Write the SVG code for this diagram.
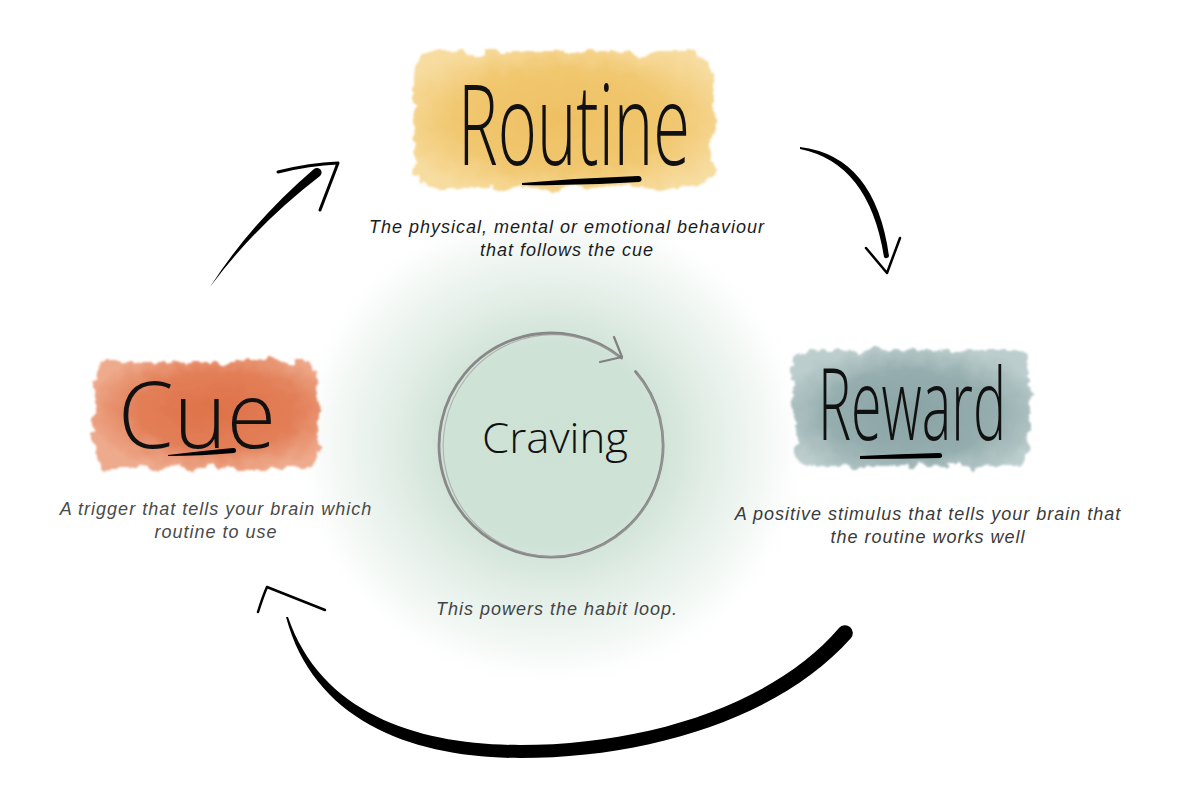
<svg xmlns="http://www.w3.org/2000/svg" width="1200" height="800" viewBox="0 0 1200 800">
  <defs>
    <style>
      .hand { font-family: "Open Sans", "DejaVu Sans", sans-serif; font-weight: 300; fill: #111; }
      .desc { font-family: "Liberation Sans", Arial, sans-serif; font-style: italic; font-size: 18px; letter-spacing: 1px; text-anchor: middle; }
      .ink { fill: #000; stroke: none; }
      .inkline { fill: none; stroke: #000; stroke-linecap: round; stroke-linejoin: round; }
    </style>
    <filter id="wc" x="-10%" y="-20%" width="120%" height="140%">
      <feTurbulence type="fractalNoise" baseFrequency="0.06" numOctaves="4" seed="7" result="n"/>
      <feDisplacementMap in="SourceGraphic" in2="n" scale="16" xChannelSelector="R" yChannelSelector="G" result="d"/>
      <feGaussianBlur in="d" stdDeviation="1.2"/>
    </filter>
    <filter id="soft" x="-20%" y="-20%" width="140%" height="140%">
      <feGaussianBlur stdDeviation="0.5"/>
    </filter>
    <radialGradient id="gRoutine" cx="50%" cy="50%" r="60%">
      <stop offset="0" stop-color="#efc063"/>
      <stop offset="0.6" stop-color="#f1c76f"/>
      <stop offset="1" stop-color="#f7dc9f"/>
    </radialGradient>
    <radialGradient id="gCue" cx="55%" cy="45%" r="60%">
      <stop offset="0" stop-color="#df7148"/>
      <stop offset="0.6" stop-color="#e27f58"/>
      <stop offset="1" stop-color="#eeaa8c"/>
    </radialGradient>
    <radialGradient id="gReward" cx="50%" cy="55%" r="60%">
      <stop offset="0" stop-color="#8aa3a4"/>
      <stop offset="0.6" stop-color="#95adae"/>
      <stop offset="1" stop-color="#bccdcd"/>
    </radialGradient>
    <radialGradient id="gGlow" cx="50%" cy="50%" r="50%">
      <stop offset="0" stop-color="#cde1d5"/>
      <stop offset="0.4" stop-color="#cfe2d6"/>
      <stop offset="0.62" stop-color="#e4efe8"/>
      <stop offset="0.85" stop-color="#f7faf8"/>
      <stop offset="1" stop-color="#ffffff" stop-opacity="0"/>
    </radialGradient>
  </defs>

  <rect width="1200" height="800" fill="#ffffff"/>

  <!-- Craving centre -->
  <g id="node-craving">
    <ellipse cx="551" cy="445" rx="265" ry="250" fill="url(#gGlow)"/>
    <path d="M635.5,371.5 A112,112 0 1 1 621.5,358" fill="none" stroke="#888" stroke-width="2.8" stroke-linecap="round" filter="url(#soft)"/>
    <path d="M638,375 A110,111 0 1 1 618,356" fill="none" stroke="#9c9c9c" stroke-width="1.1" stroke-linecap="round" opacity="0.7"/>
    <path d="M614,337 L622,357 L600,362" fill="none" stroke="#808080" stroke-width="2.2" stroke-linecap="round" stroke-linejoin="round"/>
    <text class="hand" x="482" y="453" font-size="42" textLength="146" lengthAdjust="spacingAndGlyphs">Craving</text>
    <text class="desc" x="557" y="615" fill="#444">This powers the habit loop.</text>
  </g>

  <!-- Routine -->
  <g id="node-routine">
    <rect x="414" y="52" width="300" height="136" rx="22" fill="url(#gRoutine)" filter="url(#wc)"/>
    <text class="hand" x="458" y="165" font-size="112" textLength="232" lengthAdjust="spacingAndGlyphs">Routine</text>
    <path class="ink" d="M522,183 Q580,178 638,176 A3,3 0 0 1 639,182 Q580,186 522,185 Z"/>
    <text class="desc" x="567" y="233" fill="#1c1c1c">The physical, mental or emotional behaviour</text>
    <text class="desc" x="567" y="256" fill="#1c1c1c">that follows the cue</text>
  </g>

  <!-- Cue -->
  <g id="node-cue">
    <rect x="94" y="362" width="224" height="106" rx="16" fill="url(#gCue)" filter="url(#wc)"/>
    <text class="hand" x="118" y="448" font-size="92" textLength="158" lengthAdjust="spacingAndGlyphs">Cue</text>
    <path class="ink" d="M168,455 Q200,451 233,448 A2.5,2.5 0 0 1 234,453 Q200,456 168,456 Z"/>
    <text class="desc" x="216" y="515" fill="#4a4a4a">A trigger that tells your brain which</text>
    <text class="desc" x="216" y="538" fill="#4a4a4a">routine to use</text>
  </g>

  <!-- Reward -->
  <g id="node-reward">
    <rect x="795" y="350" width="234" height="116" rx="16" fill="url(#gReward)" filter="url(#wc)"/>
    <text class="hand" x="818" y="440" font-size="100" textLength="188" lengthAdjust="spacingAndGlyphs">Reward</text>
    <path class="ink" d="M860,456 Q900,454 939,453 A2.5,2.5 0 0 1 940,458 Q900,459 860,459 Z"/>
    <text class="desc" x="928" y="520" fill="#3a3a3a">A positive stimulus that tells your brain that</text>
    <text class="desc" x="928" y="543" fill="#3a3a3a">the routine works well</text>
  </g>

  <!-- Connectors -->
  <g id="connectors">
    <!-- Cue -> Routine -->
    <path class="ink" d="M210,287 Q251,223 314,169 A4,4 0 0 1 320,176 Q255,226 210,287 Z"/>
    <path class="inkline" stroke-width="3" d="M278,172 Q310,164 338,163 L320,210"/>
    <!-- Routine -> Reward -->
    <path class="ink" d="M800,147 Q875,156 889,256 A2.8,2.8 0 0 1 884,257 Q869,163 800,149 Z"/>
    <path class="inkline" stroke-width="2.5" d="M866,248 L887,273 L900,238"/>
    <!-- Reward -> Cue (big bottom arrow) -->
    <path class="ink" d="M288,617 C322,716 422,745 520,745 C648,745 774,704 839,628 A7,7 0 0 1 851,638 C782,716 652,758 520,758 C414,758 314,722 286,617 Z"/>
    <path class="inkline" stroke-width="2.5" d="M258,612 Q263,596 267,587 L325,610"/>
  </g>
</svg>
